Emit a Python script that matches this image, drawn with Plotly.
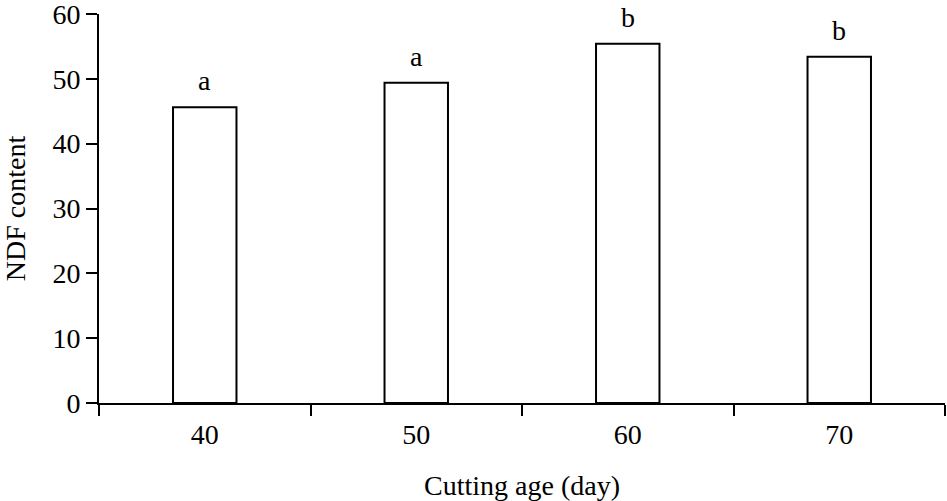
import plotly.graph_objects as go

# cutting age categories and NDF content
cutting_age = ["40", "50", "60", "70"]
ndf_content = [45.6, 49.4, 55.4, 53.4]
sig_letters = ["a", "a", "b", "b"]

y_ticks = [0, 10, 20, 30, 40, 50, 60]

FONT = "Liberation Serif, Times New Roman, serif"
FSIZE = 28

fig = go.Figure()

fig.add_trace(
    go.Bar(x=cutting_age, y=ndf_content, width=0.3,
           marker=dict(color="white", line=dict(color="black", width=2)),
           showlegend=False, hoverinfo="skip")
)

# significance letters above each bar (x given as category index)
for i, (val, letter) in enumerate(zip(ndf_content, sig_letters)):
    fig.add_annotation(x=i, y=val, text=letter, showarrow=False,
                       yanchor="bottom", yshift=9,
                       font=dict(family=FONT, size=FSIZE, color="black"))

fig.update_layout(
    width=947, height=501,
    margin=dict(l=99, r=2, t=14, b=98),
    plot_bgcolor="white", paper_bgcolor="white",
    font=dict(family=FONT, size=FSIZE, color="black"),
)

fig.update_xaxes(
    type="category", range=[-0.5, 3.5], automargin=False,
    showline=True, linecolor="black", linewidth=2,
    ticks="outside", tickson="boundaries", ticklen=11, tickwidth=2, tickcolor="black",
    tickfont=dict(family=FONT, size=FSIZE, color="black"),
    ticklabeloverflow="allow", ticklabelstandoff=5,
    showgrid=False, zeroline=False,
    title=dict(text="Cutting age (day)", standoff=27,
               font=dict(family=FONT, size=FSIZE, color="black")),
)

fig.update_yaxes(
    range=[0, 60], tickvals=y_ticks, automargin=False,
    showline=True, linecolor="black", linewidth=2,
    ticks="outside", ticklen=11, tickwidth=2, tickcolor="black",
    tickfont=dict(family=FONT, size=FSIZE, color="black"),
    ticklabeloverflow="allow",
    showgrid=False, zeroline=False,
    title=dict(text="NDF content", standoff=22,
               font=dict(family=FONT, size=FSIZE, color="black")),
)

# drop the default 8px page margin so the figure fills the window exactly
fig.write_html("out.html", config={"displayModeBar": False},
               post_script="document.body.style.margin = '0';")
